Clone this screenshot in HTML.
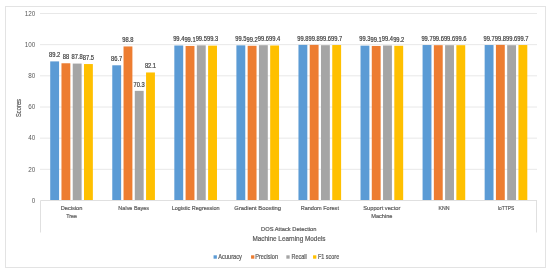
<!DOCTYPE html><html><head><meta charset="utf-8"><style>html,body{margin:0;padding:0;background:#fff;}svg{display:block;filter:blur(0.35px);}text{font-family:"Liberation Sans", Arial, sans-serif;stroke-width:0.2px;paint-order:stroke;}</style></head><body>
<svg width="550" height="273" viewBox="0 0 550 273">
<rect x="0" y="0" width="550" height="273" fill="#fff"/>
<rect x="5.5" y="6.5" width="540" height="261" fill="none" stroke="#E3E3E3" stroke-width="1"/>
<line x1="40.00" y1="13.50" x2="537.00" y2="13.50" stroke="#E8E8E8" stroke-width="1"/>
<line x1="40.00" y1="44.67" x2="537.00" y2="44.67" stroke="#E8E8E8" stroke-width="1"/>
<line x1="40.00" y1="75.83" x2="537.00" y2="75.83" stroke="#E8E8E8" stroke-width="1"/>
<line x1="40.00" y1="107.00" x2="537.00" y2="107.00" stroke="#E8E8E8" stroke-width="1"/>
<line x1="40.00" y1="138.17" x2="537.00" y2="138.17" stroke="#E8E8E8" stroke-width="1"/>
<line x1="40.00" y1="169.33" x2="537.00" y2="169.33" stroke="#E8E8E8" stroke-width="1"/>
<text x="35.3" y="15.80" font-size="6.3" fill="#595959" stroke="none" text-anchor="end">120</text>
<text x="35.3" y="46.97" font-size="6.3" fill="#595959" stroke="none" text-anchor="end">100</text>
<text x="35.3" y="78.13" font-size="6.3" fill="#595959" stroke="none" text-anchor="end">80</text>
<text x="35.3" y="109.30" font-size="6.3" fill="#595959" stroke="none" text-anchor="end">60</text>
<text x="35.3" y="140.47" font-size="6.3" fill="#595959" stroke="none" text-anchor="end">40</text>
<text x="35.3" y="171.63" font-size="6.3" fill="#595959" stroke="none" text-anchor="end">20</text>
<text x="35.3" y="202.80" font-size="6.3" fill="#595959" stroke="none" text-anchor="end">0</text>
<text transform="translate(21.2,108.0) rotate(-90)" font-size="6.40" fill="#595959" stroke="#595959" text-anchor="middle" textLength="18" lengthAdjust="spacingAndGlyphs">Scores</text>
<rect x="50.21" y="61.40" width="8.87" height="139.00" fill="#5B9BD5"/>
<text x="54.64" y="57.20" font-size="6.40" fill="#404040" stroke="#404040" stroke-width="0.12" text-anchor="middle" textLength="11.21" lengthAdjust="spacingAndGlyphs">89.2</text>
<rect x="61.47" y="63.27" width="8.87" height="137.13" fill="#ED7D31"/>
<text x="65.90" y="59.07" font-size="6.40" fill="#404040" stroke="#404040" stroke-width="0.12" text-anchor="middle" textLength="6.41" lengthAdjust="spacingAndGlyphs">88</text>
<rect x="72.73" y="63.58" width="8.87" height="136.82" fill="#A5A5A5"/>
<text x="77.16" y="59.38" font-size="6.40" fill="#404040" stroke="#404040" stroke-width="0.12" text-anchor="middle" textLength="11.21" lengthAdjust="spacingAndGlyphs">87.8</text>
<rect x="83.99" y="64.05" width="8.87" height="136.35" fill="#FFC000"/>
<text x="88.42" y="59.85" font-size="6.40" fill="#404040" stroke="#404040" stroke-width="0.12" text-anchor="middle" textLength="11.21" lengthAdjust="spacingAndGlyphs">87.5</text>
<rect x="112.27" y="65.29" width="8.87" height="135.11" fill="#5B9BD5"/>
<text x="116.70" y="61.09" font-size="6.40" fill="#404040" stroke="#404040" stroke-width="0.12" text-anchor="middle" textLength="11.21" lengthAdjust="spacingAndGlyphs">86.7</text>
<rect x="123.53" y="46.44" width="8.87" height="153.96" fill="#ED7D31"/>
<text x="127.96" y="42.24" font-size="6.40" fill="#404040" stroke="#404040" stroke-width="0.12" text-anchor="middle" textLength="11.21" lengthAdjust="spacingAndGlyphs">98.8</text>
<rect x="134.79" y="90.85" width="8.87" height="109.55" fill="#A5A5A5"/>
<text x="139.22" y="86.65" font-size="6.40" fill="#404040" stroke="#404040" stroke-width="0.12" text-anchor="middle" textLength="11.21" lengthAdjust="spacingAndGlyphs">70.3</text>
<rect x="146.05" y="72.46" width="8.87" height="127.94" fill="#FFC000"/>
<text x="150.48" y="68.26" font-size="6.40" fill="#404040" stroke="#404040" stroke-width="0.12" text-anchor="middle" textLength="11.21" lengthAdjust="spacingAndGlyphs">82.1</text>
<rect x="174.33" y="45.50" width="8.87" height="154.90" fill="#5B9BD5"/>
<text x="178.77" y="41.30" font-size="6.40" fill="#404040" stroke="#404040" stroke-width="0.12" text-anchor="middle" textLength="11.21" lengthAdjust="spacingAndGlyphs">99.4</text>
<rect x="185.59" y="45.97" width="8.87" height="154.43" fill="#ED7D31"/>
<text x="190.03" y="41.77" font-size="6.40" fill="#404040" stroke="#404040" stroke-width="0.12" text-anchor="middle" textLength="11.21" lengthAdjust="spacingAndGlyphs">99.1</text>
<rect x="196.85" y="45.35" width="8.87" height="155.05" fill="#A5A5A5"/>
<text x="201.29" y="41.15" font-size="6.40" fill="#404040" stroke="#404040" stroke-width="0.12" text-anchor="middle" textLength="11.21" lengthAdjust="spacingAndGlyphs">99.5</text>
<rect x="208.11" y="45.66" width="8.87" height="154.74" fill="#FFC000"/>
<text x="212.55" y="41.46" font-size="6.40" fill="#404040" stroke="#404040" stroke-width="0.12" text-anchor="middle" textLength="11.21" lengthAdjust="spacingAndGlyphs">99.3</text>
<rect x="236.40" y="45.35" width="8.87" height="155.05" fill="#5B9BD5"/>
<text x="240.83" y="41.15" font-size="6.40" fill="#404040" stroke="#404040" stroke-width="0.12" text-anchor="middle" textLength="11.21" lengthAdjust="spacingAndGlyphs">99.5</text>
<rect x="247.66" y="45.81" width="8.87" height="154.59" fill="#ED7D31"/>
<text x="252.09" y="41.61" font-size="6.40" fill="#404040" stroke="#404040" stroke-width="0.12" text-anchor="middle" textLength="11.21" lengthAdjust="spacingAndGlyphs">99.2</text>
<rect x="258.92" y="45.19" width="8.87" height="155.21" fill="#A5A5A5"/>
<text x="263.35" y="40.99" font-size="6.40" fill="#404040" stroke="#404040" stroke-width="0.12" text-anchor="middle" textLength="11.21" lengthAdjust="spacingAndGlyphs">99.6</text>
<rect x="270.18" y="45.50" width="8.87" height="154.90" fill="#FFC000"/>
<text x="274.61" y="41.30" font-size="6.40" fill="#404040" stroke="#404040" stroke-width="0.12" text-anchor="middle" textLength="11.21" lengthAdjust="spacingAndGlyphs">99.4</text>
<rect x="298.46" y="44.88" width="8.87" height="155.52" fill="#5B9BD5"/>
<text x="302.89" y="40.68" font-size="6.40" fill="#404040" stroke="#404040" stroke-width="0.12" text-anchor="middle" textLength="11.21" lengthAdjust="spacingAndGlyphs">99.8</text>
<rect x="309.72" y="44.88" width="8.87" height="155.52" fill="#ED7D31"/>
<text x="314.15" y="40.68" font-size="6.40" fill="#404040" stroke="#404040" stroke-width="0.12" text-anchor="middle" textLength="11.21" lengthAdjust="spacingAndGlyphs">99.8</text>
<rect x="320.98" y="45.19" width="8.87" height="155.21" fill="#A5A5A5"/>
<text x="325.41" y="40.99" font-size="6.40" fill="#404040" stroke="#404040" stroke-width="0.12" text-anchor="middle" textLength="11.21" lengthAdjust="spacingAndGlyphs">99.6</text>
<rect x="332.24" y="45.03" width="8.87" height="155.37" fill="#FFC000"/>
<text x="336.67" y="40.83" font-size="6.40" fill="#404040" stroke="#404040" stroke-width="0.12" text-anchor="middle" textLength="11.21" lengthAdjust="spacingAndGlyphs">99.7</text>
<rect x="360.52" y="45.66" width="8.87" height="154.74" fill="#5B9BD5"/>
<text x="364.95" y="41.46" font-size="6.40" fill="#404040" stroke="#404040" stroke-width="0.12" text-anchor="middle" textLength="11.21" lengthAdjust="spacingAndGlyphs">99.3</text>
<rect x="371.78" y="45.97" width="8.87" height="154.43" fill="#ED7D31"/>
<text x="376.21" y="41.77" font-size="6.40" fill="#404040" stroke="#404040" stroke-width="0.12" text-anchor="middle" textLength="11.21" lengthAdjust="spacingAndGlyphs">99.1</text>
<rect x="383.04" y="45.50" width="8.87" height="154.90" fill="#A5A5A5"/>
<text x="387.47" y="41.30" font-size="6.40" fill="#404040" stroke="#404040" stroke-width="0.12" text-anchor="middle" textLength="11.21" lengthAdjust="spacingAndGlyphs">99.4</text>
<rect x="394.30" y="45.81" width="8.87" height="154.59" fill="#FFC000"/>
<text x="398.73" y="41.61" font-size="6.40" fill="#404040" stroke="#404040" stroke-width="0.12" text-anchor="middle" textLength="11.21" lengthAdjust="spacingAndGlyphs">99.2</text>
<rect x="422.58" y="45.03" width="8.87" height="155.37" fill="#5B9BD5"/>
<text x="427.02" y="40.83" font-size="6.40" fill="#404040" stroke="#404040" stroke-width="0.12" text-anchor="middle" textLength="11.21" lengthAdjust="spacingAndGlyphs">99.7</text>
<rect x="433.84" y="45.19" width="8.87" height="155.21" fill="#ED7D31"/>
<text x="438.28" y="40.99" font-size="6.40" fill="#404040" stroke="#404040" stroke-width="0.12" text-anchor="middle" textLength="11.21" lengthAdjust="spacingAndGlyphs">99.6</text>
<rect x="445.10" y="45.19" width="8.87" height="155.21" fill="#A5A5A5"/>
<text x="449.54" y="40.99" font-size="6.40" fill="#404040" stroke="#404040" stroke-width="0.12" text-anchor="middle" textLength="11.21" lengthAdjust="spacingAndGlyphs">99.6</text>
<rect x="456.36" y="45.19" width="8.87" height="155.21" fill="#FFC000"/>
<text x="460.80" y="40.99" font-size="6.40" fill="#404040" stroke="#404040" stroke-width="0.12" text-anchor="middle" textLength="11.21" lengthAdjust="spacingAndGlyphs">99.6</text>
<rect x="484.65" y="45.03" width="8.87" height="155.37" fill="#5B9BD5"/>
<text x="489.08" y="40.83" font-size="6.40" fill="#404040" stroke="#404040" stroke-width="0.12" text-anchor="middle" textLength="11.21" lengthAdjust="spacingAndGlyphs">99.7</text>
<rect x="495.91" y="44.88" width="8.87" height="155.52" fill="#ED7D31"/>
<text x="500.34" y="40.68" font-size="6.40" fill="#404040" stroke="#404040" stroke-width="0.12" text-anchor="middle" textLength="11.21" lengthAdjust="spacingAndGlyphs">99.8</text>
<rect x="507.17" y="45.19" width="8.87" height="155.21" fill="#A5A5A5"/>
<text x="511.60" y="40.99" font-size="6.40" fill="#404040" stroke="#404040" stroke-width="0.12" text-anchor="middle" textLength="11.21" lengthAdjust="spacingAndGlyphs">99.6</text>
<rect x="518.43" y="45.03" width="8.87" height="155.37" fill="#FFC000"/>
<text x="522.86" y="40.83" font-size="6.40" fill="#404040" stroke="#404040" stroke-width="0.12" text-anchor="middle" textLength="11.21" lengthAdjust="spacingAndGlyphs">99.7</text>
<line x1="40.50" y1="200.5" x2="537.00" y2="200.5" stroke="#E0E0E0" stroke-width="1"/>
<line x1="40.5" y1="200.5" x2="40.5" y2="232.5" stroke="#E0E0E0" stroke-width="1"/>
<line x1="536.5" y1="200.5" x2="536.5" y2="232.5" stroke="#E0E0E0" stroke-width="1"/>
<text x="71.53" y="210.30" font-size="6.10" fill="#595959" stroke="#595959" text-anchor="middle" textLength="21.8" lengthAdjust="spacingAndGlyphs">Decision</text>
<text x="71.53" y="218.40" font-size="6.10" fill="#595959" stroke="#595959" text-anchor="middle" textLength="10.7" lengthAdjust="spacingAndGlyphs">Tree</text>
<text x="133.59" y="210.30" font-size="6.10" fill="#595959" stroke="#595959" text-anchor="middle" textLength="30.7" lengthAdjust="spacingAndGlyphs">Naïve Bayes</text>
<text x="195.66" y="210.30" font-size="6.10" fill="#595959" stroke="#595959" text-anchor="middle" textLength="47.9" lengthAdjust="spacingAndGlyphs">Logistic Regression</text>
<text x="257.72" y="210.30" font-size="6.10" fill="#595959" stroke="#595959" text-anchor="middle" textLength="46.7" lengthAdjust="spacingAndGlyphs">Gradient Boosting</text>
<text x="319.78" y="210.30" font-size="6.10" fill="#595959" stroke="#595959" text-anchor="middle" textLength="38.3" lengthAdjust="spacingAndGlyphs">Random Forest</text>
<text x="381.84" y="210.30" font-size="6.10" fill="#595959" stroke="#595959" text-anchor="middle" textLength="37.0" lengthAdjust="spacingAndGlyphs">Support vector</text>
<text x="381.84" y="218.40" font-size="6.10" fill="#595959" stroke="#595959" text-anchor="middle" textLength="21.3" lengthAdjust="spacingAndGlyphs">Machine</text>
<text x="443.91" y="210.30" font-size="6.10" fill="#595959" stroke="#595959" text-anchor="middle" textLength="11.0" lengthAdjust="spacingAndGlyphs">KNN</text>
<text x="505.97" y="210.30" font-size="6.10" fill="#595959" stroke="#595959" text-anchor="middle" textLength="16.4" lengthAdjust="spacingAndGlyphs">IoTTPS</text>
<text x="288.8" y="230.5" font-size="5.9" fill="#595959" stroke="#595959" text-anchor="middle" textLength="55.4" lengthAdjust="spacingAndGlyphs">DOS Attack Detection</text>
<text x="289" y="240.6" font-size="6.9" fill="#595959" stroke="#595959" text-anchor="middle" textLength="73.1" lengthAdjust="spacingAndGlyphs">Machine Learning Models</text>
<rect x="213.55" y="255.3" width="3.3" height="3.4" fill="#5B9BD5"/>
<text x="218.30" y="258.9" font-size="6.40" fill="#595959" stroke="#595959" textLength="23.5" lengthAdjust="spacingAndGlyphs">Acuuracy</text>
<rect x="251.05" y="255.3" width="3.3" height="3.4" fill="#ED7D31"/>
<text x="255.20" y="258.9" font-size="6.40" fill="#595959" stroke="#595959" textLength="22.8" lengthAdjust="spacingAndGlyphs">Precision</text>
<rect x="286.35" y="255.3" width="3.3" height="3.4" fill="#A5A5A5"/>
<text x="291.50" y="258.9" font-size="6.40" fill="#595959" stroke="#595959" textLength="15.2" lengthAdjust="spacingAndGlyphs">Recall</text>
<rect x="313.05" y="255.3" width="3.3" height="3.4" fill="#FFC000"/>
<text x="317.90" y="258.9" font-size="6.40" fill="#595959" stroke="#595959" textLength="21.3" lengthAdjust="spacingAndGlyphs">F1 score</text>
</svg></body></html>
